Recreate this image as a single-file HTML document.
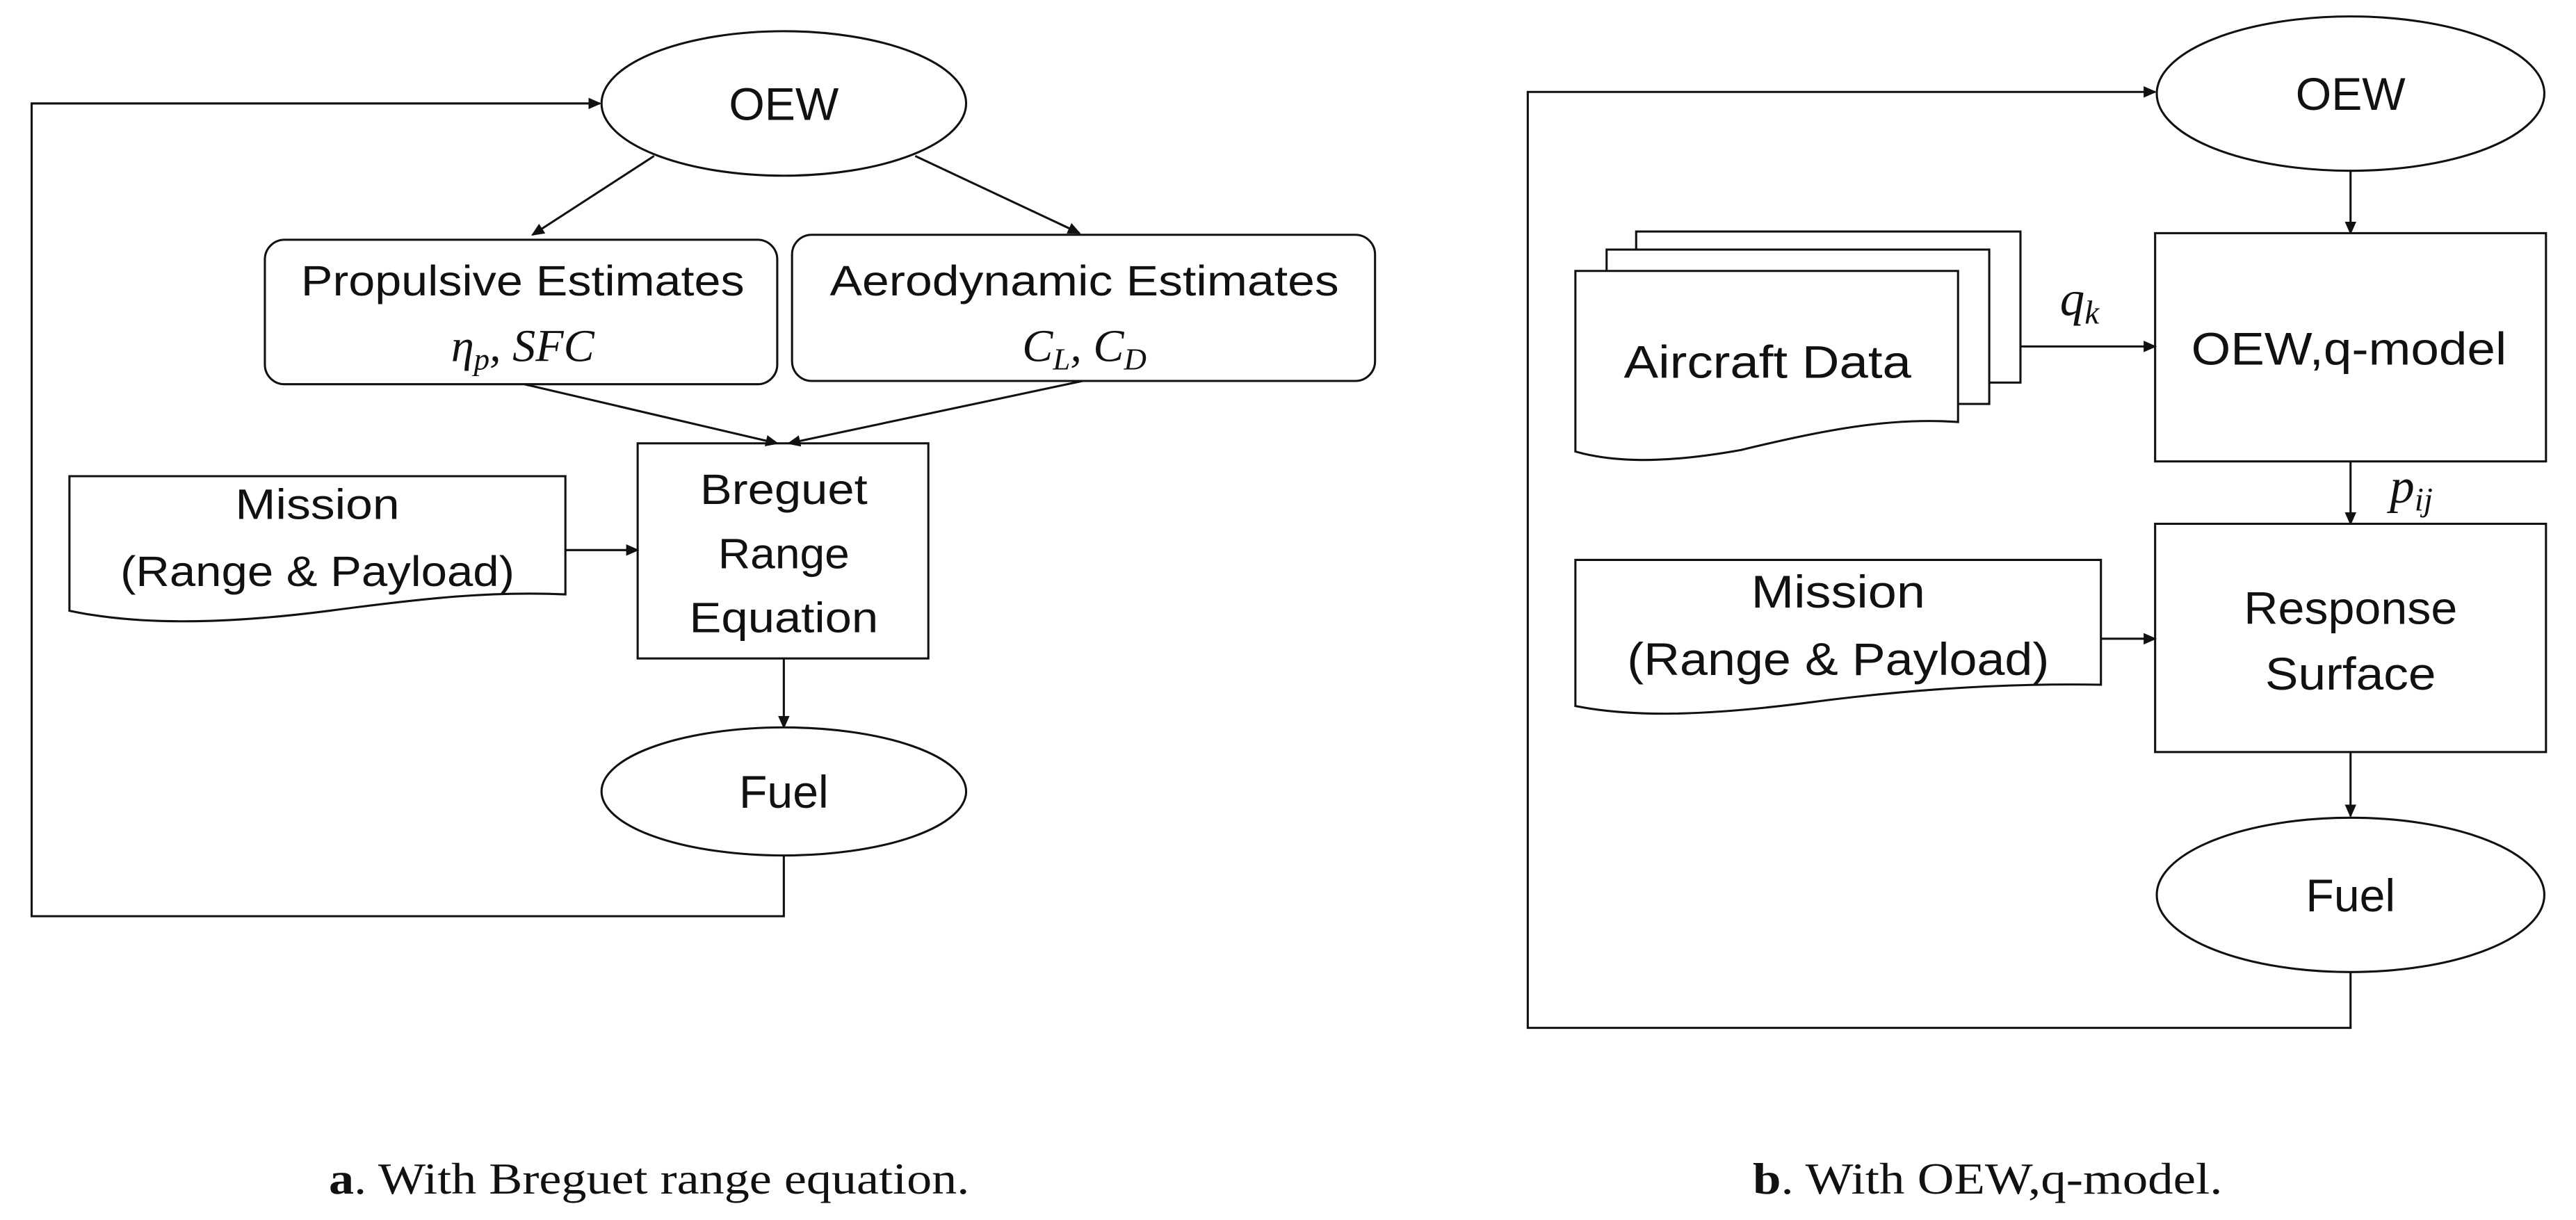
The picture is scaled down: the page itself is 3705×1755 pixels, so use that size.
<!DOCTYPE html>
<html><head><meta charset="utf-8"><style>
html,body{margin:0;padding:0;background:#fff;}
svg{display:block;}
text{font-family:"Liberation Sans",sans-serif;fill:#111;}
.m{font-family:"Liberation Serif",serif;font-style:italic;}
.c{font-family:"Liberation Serif",serif;}
</style></head><body>
<svg width="3705" height="1755" viewBox="0 0 1568 743" xmlns="http://www.w3.org/2000/svg">
<defs>
<marker id="a" markerWidth="8" markerHeight="8" refX="7" refY="4" orient="auto" markerUnits="userSpaceOnUse">
<path d="M0,0.5 L8,4 L0,7.5 z" fill="#111"/>
</marker>
</defs>
<g fill="none" stroke="#111" stroke-width="1.3">
<!-- LEFT PANEL -->
<polyline points="477,521 477,558 19,558 19,63 365,63" marker-end="url(#a)"/>
<ellipse cx="477" cy="63" rx="111" ry="44" fill="#fff"/>
<rect x="161" y="146" width="312" height="88" rx="12" fill="#fff"/>
<rect x="482" y="143" width="355" height="89" rx="12" fill="#fff"/>
<line x1="398" y1="95" x2="324" y2="143" marker-end="url(#a)"/>
<line x1="557" y1="95" x2="657" y2="142" marker-end="url(#a)"/>
<rect x="388" y="270" width="177" height="131" fill="#fff"/>
<line x1="319" y1="234" x2="473" y2="270" marker-end="url(#a)"/>
<line x1="659" y1="232" x2="480" y2="270" marker-end="url(#a)"/>
<path d="M42,290 L344,290 L344,362 C300,360 260,364 200,372 C130,381 80,380 42,372 Z" fill="#fff"/>
<line x1="344" y1="335" x2="388" y2="335" marker-end="url(#a)"/>
<line x1="477" y1="401" x2="477" y2="443" marker-end="url(#a)"/>
<ellipse cx="477" cy="482" rx="111" ry="39" fill="#fff"/>

<!-- RIGHT PANEL -->
<polyline points="1431,592 1431,626 930,626 930,56 1312,56" marker-end="url(#a)"/>
<ellipse cx="1431" cy="57" rx="118" ry="47" fill="#fff"/>
<line x1="1431" y1="104" x2="1431" y2="142" marker-end="url(#a)"/>
<rect x="1312" y="142" width="238" height="139" fill="#fff"/>
<rect x="996" y="141" width="234" height="92" fill="#fff"/>
<rect x="978" y="152" width="233" height="94" fill="#fff"/>
<path d="M959,165 L1192,165 L1192,257 C1150,254 1110,262 1060,274 C1010,283 980,281 959,275 Z" fill="#fff"/>
<line x1="1230" y1="211" x2="1312" y2="211" marker-end="url(#a)"/>
<line x1="1431" y1="281" x2="1431" y2="319" marker-end="url(#a)"/>
<rect x="1312" y="319" width="238" height="139" fill="#fff"/>
<path d="M959,341 L1279,341 L1279,417 C1220,416 1160,420 1100,428 C1030,437 990,436 959,430 Z" fill="#fff"/>
<line x1="1279" y1="389" x2="1312" y2="389" marker-end="url(#a)"/>
<line x1="1431" y1="458" x2="1431" y2="497" marker-end="url(#a)"/>
<ellipse cx="1431" cy="545" rx="118" ry="47" fill="#fff"/>
</g>

<g text-anchor="middle" font-size="26">
<text x="477" y="73" font-size="28">OEW</text>
<text x="318" y="180" textLength="270" lengthAdjust="spacingAndGlyphs">Propulsive Estimates</text>
<text x="660" y="180" textLength="310" lengthAdjust="spacingAndGlyphs">Aerodynamic Estimates</text>
<text class="m" x="318" y="220" font-size="28">η<tspan font-size="19" dy="5">p</tspan><tspan dy="-5">, SFC</tspan></text>
<text class="m" x="660" y="220" font-size="28">C<tspan font-size="19" dy="5">L</tspan><tspan dy="-5">, C</tspan><tspan font-size="19" dy="5">D</tspan></text>
<text x="477" y="307" textLength="102" lengthAdjust="spacingAndGlyphs">Breguet</text>
<text x="477" y="346" textLength="80" lengthAdjust="spacingAndGlyphs">Range</text>
<text x="477" y="385" textLength="115" lengthAdjust="spacingAndGlyphs">Equation</text>
<text x="193" y="316" textLength="100" lengthAdjust="spacingAndGlyphs">Mission</text>
<text x="193" y="357" textLength="240" lengthAdjust="spacingAndGlyphs">(Range &amp; Payload)</text>
<text x="477" y="492" font-size="28">Fuel</text>

<text x="1431" y="67" font-size="28">OEW</text>
<text x="1076" y="230" font-size="28" textLength="175" lengthAdjust="spacingAndGlyphs">Aircraft Data</text>
<text x="1430" y="222" font-size="28" textLength="192" lengthAdjust="spacingAndGlyphs">OEW,q-model</text>
<text class="m" x="1266" y="192" font-size="30">q<tspan font-size="20" dy="5">k</tspan></text>
<text class="m" x="1468" y="306" font-size="30">p<tspan font-size="20" dy="5">ij</tspan></text>
<text x="1119" y="370" font-size="28" textLength="106" lengthAdjust="spacingAndGlyphs">Mission</text>
<text x="1119" y="411" font-size="28" textLength="257" lengthAdjust="spacingAndGlyphs">(Range &amp; Payload)</text>
<text x="1431" y="380" font-size="28" textLength="130" lengthAdjust="spacingAndGlyphs">Response</text>
<text x="1431" y="420" font-size="28" textLength="104" lengthAdjust="spacingAndGlyphs">Surface</text>
<text x="1431" y="555" font-size="28">Fuel</text>

<text class="c" x="395" y="727" font-size="27" textLength="390" lengthAdjust="spacingAndGlyphs"><tspan font-weight="bold">a</tspan>. With Breguet range equation.</text>
<text class="c" x="1210" y="727" font-size="27" textLength="286" lengthAdjust="spacingAndGlyphs"><tspan font-weight="bold">b</tspan>. With OEW,q-model.</text>
</g>
</svg>
</body></html>
